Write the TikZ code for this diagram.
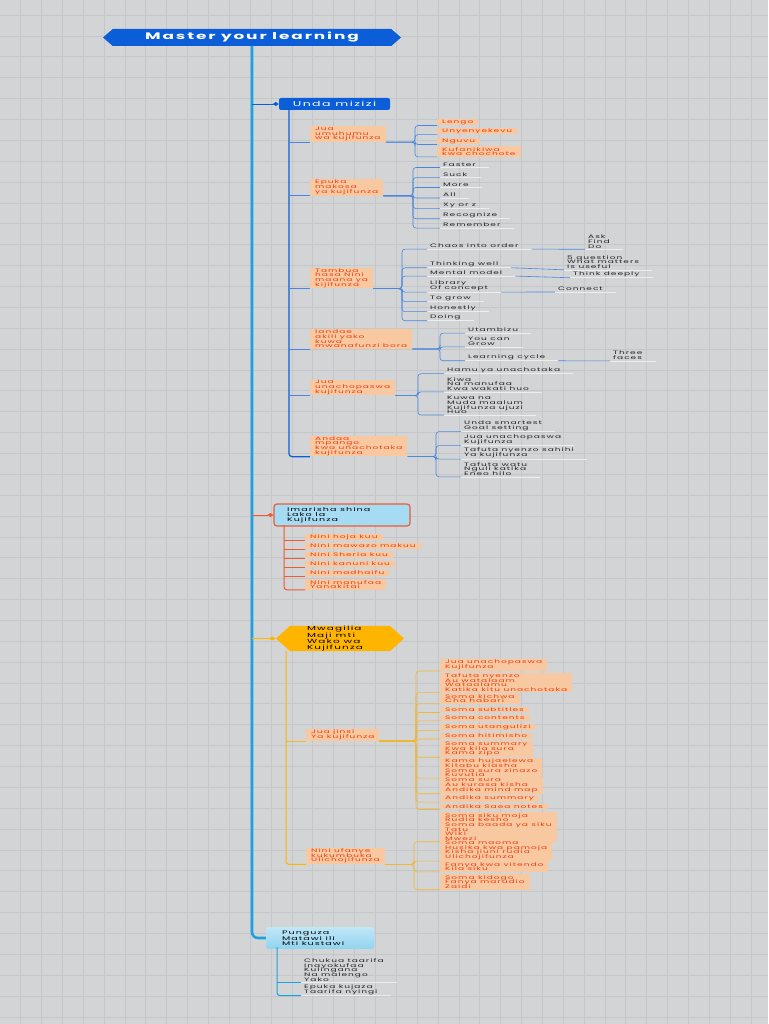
\documentclass[tikz,border=0pt]{standalone}
\usepackage{fontspec}
\setmainfont{Poppins}[FakeStretch=1.8,LetterSpace=20]
\usepackage{tikz}
\usetikzlibrary{arrows.meta,positioning,shapes.symbols}

\definecolor{paper}{HTML}{D3D4D6}
\definecolor{gridc}{HTML}{C5C6C9}
\definecolor{deepblue}{HTML}{0B5ED7}
\definecolor{trunkc}{HTML}{1AA3E0}
\definecolor{forkc}{HTML}{4A86DE}
\definecolor{peachc}{HTML}{F8C8A0}
\definecolor{tomato}{HTML}{F03C10}
\definecolor{redc}{HTML}{EE5A36}
\definecolor{skyc}{HTML}{A6DCF3}
\definecolor{amber}{HTML}{FFB400}
\definecolor{amberl}{HTML}{F2B730}
\definecolor{inkc}{HTML}{222222}
\definecolor{ulc}{HTML}{ECEDEF}

\newcommand{\smallfs}{\fontsize{5}{4.7}\selectfont\lineskiplimit=-5pt}

\begin{document}
\begin{tikzpicture}[x=1pt,y=-1pt,
	roothex/.style={signal,signal to=east and west,signal pointer angle=82,fill=deepblue,text=white,
		minimum width=298pt,minimum height=17pt,inner sep=0pt,font=\fontsize{9.4}{10}\selectfont\bfseries},
	undabox/.style={fill=deepblue,text=white,rounded corners=2pt,minimum width=111pt,minimum height=12pt,
		inner sep=0pt,font=\fontsize{7}{7}\selectfont},
	peach/.style={fill=peachc,text=tomato,align=left,anchor=west,inner xsep=5pt,inner ysep=0.9pt,font=\smallfs},
	leaf/.style={text=inkc,align=left,anchor=west,inner xsep=3pt,inner ysep=1pt,font=\smallfs,
		append after command={(\tikzlastnode.south west) edge[uline] ([xshift=10pt]\tikzlastnode.south east)}},
	uline/.style={draw=ulc,line width=0.6pt},
	fork/.style={draw=forkc,line width=0.6pt,rounded corners=3pt},
	ofork/.style={draw=amberl,line width=0.6pt,rounded corners=3pt},
	trunk/.style={draw=trunkc,line width=2.6pt,rounded corners=6pt}]

	% paper
	\useasboundingbox (0,0) rectangle (768,1024);
	\fill[paper] (0,0) rectangle (768,1024);
	\foreach \k in {0,...,35} \draw[gridc,line width=0.5pt] ({20.5+20.87*\k},0) -- ++(0,1024);
	\foreach \k in {0,...,48} \draw[gridc,line width=0.5pt] (0,{15+20.87*\k}) -- ++(768,0);

	\node[roothex] (root) at (252,37.5) {Master your learning};

	% Unda mizizi
	\node[undabox] (unda) at (334.5,104) {Unda mizizi};
	\begin{scope}[every node/.style={peach}]
		\node (juamuhimu) at (310,134) {Jua\\umuhumu\\wa kujifunza};
		\node (epuka) at (310,187.5) {Epuka\\makosa\\ya kujifunza};
		\node (tambua) at (310,278) {Tambua\\hasa Nini\\maana ya\\kijifunza};
		\node (iandae) at (310,339) {Iandae\\akili yako\\kuwa\\mwanafunzi bora};
		\node (juapas) at (310,387.5) {Jua\\unachopaswa\\kujifunza};
		\node (andaa) at (310,446) {Andaa\\mpango\\kwa unachotaka\\kujifunza};

		\node (lengo) at (437,122) {Lengo};
		\node (unyen) at (437,131) {Unyenyekevu};
		\node (nguvu) at (437,141) {Nguvu};
		\node (kufan) at (437,151.5) {Kufanikiwa\\kwa chochote};
	\end{scope}
	\begin{scope}[every node/.style={leaf}]
		\node (faster) at (440,164.5) {Faster};
		\node (suck) at (440,174.5) {Suck};
		\node (more) at (440,184.5) {More};
		\node (allx) at (440,195) {All};
		\node (xyz) at (440,205) {Xy or z};
		\node (recog) at (440,215) {Recognize};
		\node (remem) at (440,225) {Remember};

		\node (chaos) at (427,246) {Chaos into order};
		\node (thinkw) at (427,264) {Thinking well};
		\node (mental) at (427,273) {Mental model};
		\node (library) at (427,286) {Library\\Of concept};
		\node (togrow) at (427,298) {To grow};
		\node (honest) at (427,308) {Honestly};
		\node (doing) at (427,317) {Doing};
		\node (ask) at (585,241.5) {Ask\\Find\\Do};
		\node (fiveq) at (564,262) {5 question\\What matters\\Is useful};
		\node (thinkd) at (570,274) {Think deeply};
		\node (connect) at (555,289) {Connect};

		\node (utamb) at (465,330) {Utambizu};
		\node (youcan) at (465,341.5) {You can\\Grow};
		\node (lcycle) at (465,357) {Learning cycle};
		\node (three) at (610,355.5) {Three\\faces};

		\node (hamu) at (444,370) {Hamu ya unachotaka};
		\node (kiwa) at (444,384) {Kiwa\\Na manufaa\\Kwa wakati huo};
		\node (kuwa) at (444,405) {Kuwa na\\Muda maalum\\Kujifunza ujuzi\\Huo};

		\node (smart) at (461,425.5) {Unda smartest\\Goal setting};
		\node (juakuj) at (461,439.5) {Jua unachopaswa\\Kujifunza};
		\node (tafnyenzo) at (461,453) {Tafuta nyenzo sahihi\\Ya kujifunza};
		\node (tafwatu) at (461,469) {Tafuta watu\\Nguli katika\\Eneo hilo};
	\end{scope}

	% Imarisha shina
	\node[fill=skyc,draw=redc,line width=1.2pt,rounded corners=3pt,minimum height=20pt,text width=110pt,
		inner xsep=13pt,align=flush left,font=\fontsize{5.3}{5}\selectfont] (imar) at (342,515) {Imarisha shina\\Lako la\\Kujifunza};
	\begin{scope}[every node/.style={peach}]
		\node (hoja) at (305,537) {Nini hoja kuu};
		\node (mawazo) at (305,546) {Nini mawazo makuu};
		\node (sheria) at (305,555) {Nini Sheria kuu};
		\node (kanuni) at (305,564) {Nini kanuni kuu};
		\node (madhaifu) at (305,573) {Nini madhaifu};
		\node (manuf) at (305,584.5) {Nini manufaa\\Yanakitai};
	\end{scope}

	% Mwagilia maji
	\node[signal,signal to=east and west,signal pointer angle=84,fill=amber,minimum width=128pt,minimum height=25pt,
		text width=66pt,align=flush left,inner sep=0pt,font=\fontsize{5.8}{5.7}\selectfont] (mwag) at (340,638.5)
		{Mwagilia\\Maji mti\\Wako wa\\Kujifunza};
	\begin{scope}[every node/.style={peach}]
		\node (jjinsi) at (306,735) {Jua jinsi\\Ya kujifunza};
		\node (ninik) at (306,856) {Nini ufanye\\kukumbuka\\Ulichojifunza};

		\node (hatua1) at (440,665) {Jua unachopaswa\\Kujifunza};
		\node (hatua2) at (440,682.5) {Tafuta nyenzo\\Au watalaam\\Wataalamu\\Katika kitu unachotaka};
		\node (hatua3) at (440,698.5) {Soma kichwa\\Cha habari};
		\node (hatua4) at (440,709.5) {Soma subtitles};
		\node (hatua5) at (440,718) {Soma contents};
		\node (hatua6) at (440,727) {Soma utangulizi};
		\node (hatua7) at (440,736) {Soma hitimisho};
		\node (hatua8) at (440,749) {Soma summary\\Kwa kila sura\\Kama zipo};
		\node (hatua9) at (440,768) {Kama hujaelewa\\Kitabu kiasha\\Soma sura zinazo\\Kuvutia};
		\node (hatua10) at (440,785.5) {Soma sura\\Au kurasa kisha\\Andika mind map};
		\node (hatua11) at (440,798.5) {Andika summary};
		\node (hatua12) at (440,806.5) {Andika Saea notes};

		\node (kumb1) at (440,827) {Soma siku moja\\Rudia kesho\\Soma baada ya siku\\Tatu\\Wiki\\Mwezi};
		\node (kumb2) at (440,850.5) {Soma maoma\\Husika kwa pamoja\\Kisha jiuni rudia\\Ulichojifunza};
		\node (kumb3) at (440,866.5) {Fanya kwa vitendo\\Kila siku};
		\node (kumb4) at (440,882) {Soma kidogo\\Fanya marudio\\Zaidi};
	\end{scope}

	% Punguza matawi
	\node[top color=skyc!70!white,bottom color=skyc!85!trunkc,rounded corners=2pt,minimum height=18pt,
		text width=76pt,inner xsep=16pt,align=flush left,font=\fontsize{5.3}{5}\selectfont] (pung) at (320,938) {Punguza\\Matawi ili\\Mti kustawi};
	\begin{scope}[every node/.style={leaf}]
		\node (chuk) at (301,970) {Chukua taarifa\\Inayokufaa\\Kulingana\\Na malengo\\Yako};
		\node (epk) at (301,989.5) {Epuka kujaza\\Taarifa nyingi};
	\end{scope}

	% trunk and main branches
	\draw[trunk] (root.south) |- (pung.west);
	\draw[deepblue,line width=0.8pt,-{Diamond[length=6pt,width=4pt]}] (root.south |- unda.west) -- (unda.west);
	\draw[redc,line width=1pt,-{Diamond[length=6pt,width=4pt]}] (root.south |- imar.west) -- (imar.west);
	\draw[amber,line width=1pt,-{Diamond[length=7pt,width=4pt]}] (root.south |- mwag.west) -- (mwag.west);

	\coordinate (u0) at (289,110);
	\draw[deepblue,line width=1.3pt,rounded corners=3pt] (u0) |- (andaa.south west);
	\foreach \n in {juamuhimu,epuka,tambua,iandae,juapas}
		\draw[fork] (u0 |- \n.south west) -- (\n.south west);
	\foreach \c in {lengo,unyen,nguvu,kufan}
		\draw[fork] (juamuhimu.south east) -| ([xshift=-22pt]\c.south west) -- (\c.south west);
	\foreach \c in {faster,suck,more,allx,xyz,recog,remem}
		\draw[fork] (epuka.south east) -| ([xshift=-27pt]\c.south west) -- (\c.south west);
	\foreach \c in {chaos,thinkw,mental,library,togrow,honest,doing}
		\draw[fork] (tambua.south east) -| ([xshift=-25pt]\c.south west) -- (\c.south west);
	\draw[fork] ([xshift=10pt]chaos.south east) -- (ask.south west);
	\draw[fork] ([xshift=10pt]thinkw.south east) -- (fiveq.south west);
	\draw[fork] ([xshift=10pt]mental.south east) -- (thinkd.south west);
	\draw[fork] ([xshift=10pt]library.south east) -- (connect.south west);
	\foreach \c in {utamb,youcan,lcycle}
		\draw[fork] (iandae.south east) -| ([xshift=-25pt]\c.south west) -- (\c.south west);
	\draw[fork] ([xshift=10pt]lcycle.south east) -- (three.south west);
	\foreach \c in {hamu,kiwa,kuwa}
		\draw[fork] (juapas.south east) -| ([xshift=-26pt]\c.south west) -- (\c.south west);
	\foreach \c in {smart,juakuj,tafnyenzo,tafwatu}
		\draw[fork] (andaa.south east) -| ([xshift=-25pt]\c.south west) -- (\c.south west);

	\coordinate (i0) at (284,525);
	\draw[redc,line width=1pt,rounded corners=3pt] (i0) |- (manuf.south west);
	\foreach \n in {hoja,mawazo,sheria,kanuni,madhaifu}
		\draw[redc,line width=0.6pt] (i0 |- \n.south west) -- (\n.south west);

	\coordinate (m0) at (286,651);
	\draw[amber,line width=1pt,rounded corners=3pt] (m0) |- (ninik.south west);
	\draw[amberl,line width=0.8pt] (m0 |- jjinsi.south west) -- (jjinsi.south west);
	\foreach \i in {1,...,12}
		\draw[ofork] (jjinsi.south east) -| ([xshift=-24pt]hatua\i.south west) -- (hatua\i.south west);
	\foreach \i in {1,...,4}
		\draw[ofork] (ninik.south east) -| ([xshift=-26pt]kumb\i.south west) -- (kumb\i.south west);

	\coordinate (p0) at (277,947);
	\draw[trunkc,line width=1pt,rounded corners=3pt] (p0) |- (epk.south west);
	\draw[trunkc,line width=0.6pt] (p0 |- chuk.south west) -- (chuk.south west);
\end{tikzpicture}
\end{document}
